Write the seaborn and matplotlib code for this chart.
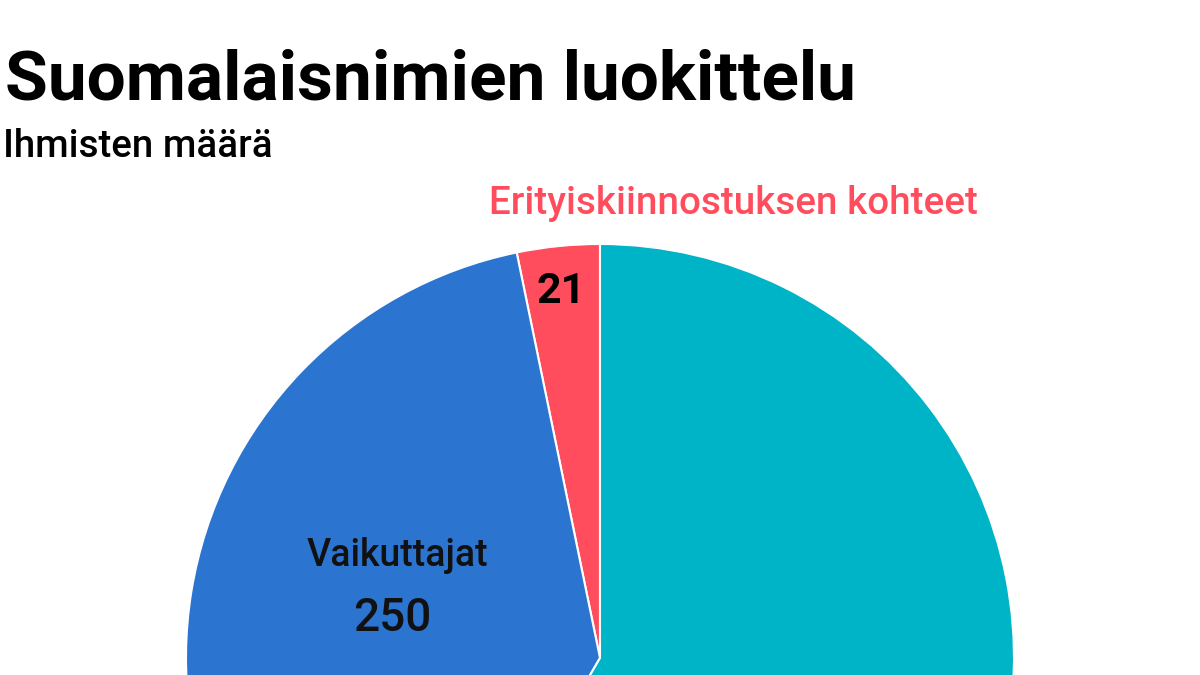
import matplotlib
matplotlib.use("Agg")
import matplotlib.pyplot as plt
import seaborn as sns

# luokat ja ihmisten määrä (kolmas luokka jää kuvan ulkopuolelle, arvio)
categories = ["Erityiskiinnostuksen kohteet", "Vaikuttajat", "Muut"]
counts = [21, 250, 380]
colors = ["#ff4d5e", "#2b74d0", "#00b4c8"]

sns.set_theme(style="white")
plt.rcParams["font.family"] = ["Roboto", "DejaVu Sans"]

fig = plt.figure(figsize=(12, 6.75), dpi=100)
W, H = 1200, 675

# pie centre and radius in pixels
cx, cy, r = 600, 658, 414
ax = fig.add_axes([(cx - r) / W, (H - cy - r) / H, 2 * r / W, 2 * r / H])
ax.pie(counts, colors=colors, startangle=90, counterclock=True,
       wedgeprops=dict(edgecolor="white", linewidth=1.5))
ax.set_xlim(-1, 1)
ax.set_ylim(-1, 1)
ax.axis("off")

def px(x, y):
    return ((x - cx) / r, (cy - y) / r)

ax.text(*px(561, 291), str(counts[0]), ha="center", va="center",
        fontsize=31, fontweight="bold", color="black")
ax.text(*px(397, 556), categories[1], ha="center", va="center",
        fontsize=27, fontweight="medium", color="#111111")
ax.text(*px(392, 618), str(counts[1]), ha="center", va="center",
        fontsize=33, fontweight="medium", color="#111111")

fig.text(5 / W, 1 - 100 / H, "Suomalaisnimien luokittelu", fontsize=50,
         fontweight="bold", color="black", va="baseline", ha="left")
fig.text(3 / W, 1 - 157 / H, "Ihmisten määrä", fontsize=27.7,
         fontweight="medium", color="black", va="baseline", ha="left")
fig.text(733 / W, 1 - 214 / H, categories[0], fontsize=27.8,
         fontweight="medium", color="#ff4d5e", va="baseline", ha="center")

fig.savefig("out.png", dpi=100, facecolor="white")
